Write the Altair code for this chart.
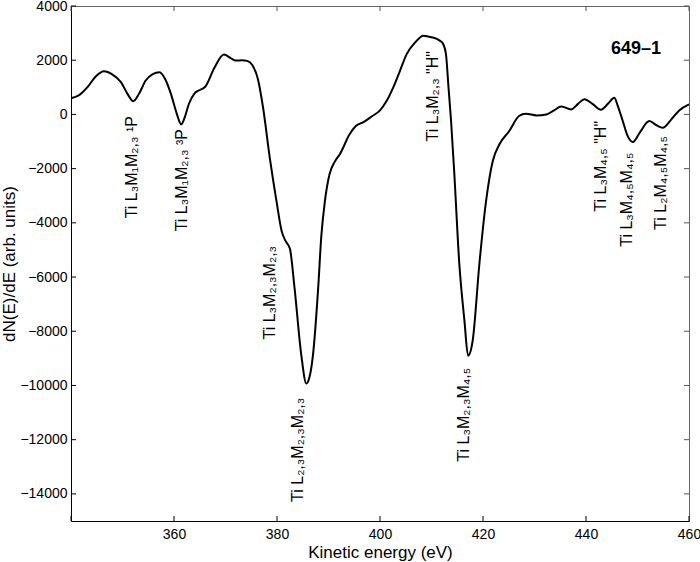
import altair as alt
import pandas as pd

# ---- curve ----
energy = [340.0, 341.5, 343.2, 344.8, 346.4, 348.0, 349.7, 351.0, 352.1, 353.2,
          354.5, 355.8, 357.2, 358.3, 359.4, 360.5, 361.4, 362.1, 362.9, 364.0,
          364.8, 366.1, 367.8, 369.7, 371.0, 372.0, 373.2, 374.2, 375.2, 376.3,
          377.3, 378.6, 379.9, 380.9, 381.6, 382.5, 383.4, 384.7, 385.7, 386.3,
          387.0, 388.0, 388.6, 389.3, 390.2, 391.2, 392.2, 394.1, 395.3, 396.8,
          398.5, 400.0, 401.3, 402.6, 403.9, 405.2, 406.8, 408.4, 410.0, 411.6,
          412.2, 412.8, 413.3, 413.8, 414.4, 415.4, 416.4, 417.1, 418.0, 419.3,
          420.6, 421.9, 423.2, 425.1, 427.0, 428.3, 430.4, 432.3, 433.8, 435.2,
          437.1, 438.5, 439.7, 441.2, 442.9, 444.3, 445.5, 446.2, 447.1, 448.1,
          449.1, 450.5, 452.3, 453.7, 454.9, 456.5, 458.1, 460.0]
signal = [600, 700, 1005, 1400, 1594, 1480, 1190, 750, 490, 760,
          1250, 1480, 1557, 1300, 760, 50, -368, -100, 393, 780,
          883, 1030, 1700, 2208, 2080, 1987, 2000, 1976, 1820, 1300,
          247, -1600, -3200, -4300, -4650, -4950, -6390, -8850, -9930, -9700,
          -8850, -6390, -4500, -3200, -2210, -1750, -1470, -734, -430, -283,
          -60, 147, 500, 1005, 1619, 2234, 2650, 2907, 2850, 2723,
          2620, 2230, 1000, -244, -2088, -5510, -7620, -8900, -8340, -5510,
          -3190, -1715, -1100, -612, -59, 25, -37, 0, 150, 294,
          184, 400, 563, 400, 173, 400, 614, 300, -221, -800,
          -1019, -650, -245, -400, -491, -200, 147, 368]

# ---- peak annotations ----
label_text = ["Ti L\u2083M\u2081M\u2082,\u2083 \u00b9P",
              "Ti L\u2083M\u2081M\u2082,\u2083 \u00b3P",
              "Ti L\u2083M\u2082,\u2083M\u2082,\u2083",
              "Ti L\u2082,\u2083M\u2082,\u2083M\u2082,\u2083",
              "Ti L\u2083M\u2082,\u2083 \"H\"",
              "Ti L\u2083M\u2082,\u2083M\u2084,\u2085",
              "Ti L\u2083M\u2084,\u2085 \"H\"",
              "Ti L\u2083M\u2084,\u2085M\u2084,\u2085",
              "Ti L\u2082M\u2084,\u2085M\u2084,\u2085"]
label_x = [351.8, 361.5, 378.6, 384.0, 410.2, 416.4, 442.9, 448.0, 454.5]
label_y = [-60, -540, -4850, -10450, 2340, -9350, -240, -1410, -800]

sample_text = ["649\u20131"]
sample_x = [449.7]
sample_y = [2410]

x_ticks = [340, 360, 380, 400, 420, 440, 460]
y_ticks = [4000, 2000, 0, -2000, -4000, -6000, -8000, -10000, -12000, -14000]

W, H = 618, 515
FONT = "Liberation Sans"

xs = alt.Scale(domain=[340, 460], nice=False, zero=False)
ys = alt.Scale(domain=[-15000, 4000], nice=False, zero=False)

x_axis = alt.Axis(values=x_ticks[1:], ticks=False, grid=False, labelFontSize=14,
                  labelPadding=6, titleFontSize=17, titleFontWeight="normal",
                  titlePadding=3, domainColor="black", labelColor="black",
                  titleColor="black", labelFont=FONT, titleFont=FONT,
                  labelFlush=False, labelOverlap=False, format="d")
y_axis = alt.Axis(values=y_ticks, ticks=False, grid=False, labelFontSize=14,
                  labelPadding=4, titleFontSize=17, titleFontWeight="normal",
                  titlePadding=1, domainColor="black", labelColor="black",
                  titleColor="black", labelFont=FONT, titleFont=FONT,
                  labelFlush=False, labelOverlap=False, format="d")

curve = pd.DataFrame({"x": energy, "y": signal})
labels = pd.DataFrame({"x": label_x, "y": label_y, "t": label_text})
sample = pd.DataFrame({"x": sample_x, "y": sample_y, "t": sample_text})
xt = pd.DataFrame({"x": x_ticks})
yt = pd.DataFrame({"y": y_ticks})

XT = "Kinetic energy (eV)"
YT = "dN(E)/dE (arb. units)"

line = alt.Chart(curve).mark_line(color="black", strokeWidth=2,
                                  interpolate="monotone").encode(
    x=alt.X("x:Q", scale=xs, axis=x_axis, title=XT),
    y=alt.Y("y:Q", scale=ys, axis=y_axis, title=YT),
)

txt = alt.Chart(labels).mark_text(angle=270, align="right", baseline="middle",
                                  font=FONT, fontSize=16, color="black").encode(
    x=alt.X("x:Q", scale=xs, title=XT),
    y=alt.Y("y:Q", scale=ys, title=YT),
    text="t:N",
)

stxt = alt.Chart(sample).mark_text(align="center", baseline="middle", font=FONT,
                                   fontSize=18, fontWeight="bold",
                                   color="black").encode(
    x=alt.X("x:Q", scale=xs, title=XT),
    y=alt.Y("y:Q", scale=ys, title=YT),
    text="t:N",
)

tick_len = 5
bx = alt.Chart(xt).mark_rule(color="black", strokeWidth=1).encode(
    x=alt.X("x:Q", scale=xs, title=XT), y=alt.value(H), y2=alt.value(H - tick_len))
tx = alt.Chart(xt).mark_rule(color="#555555", strokeWidth=1).encode(
    x=alt.X("x:Q", scale=xs, title=XT), y=alt.value(0), y2=alt.value(tick_len))
ly = alt.Chart(yt).mark_rule(color="black", strokeWidth=1).encode(
    y=alt.Y("y:Q", scale=ys, title=YT), x=alt.value(0), x2=alt.value(tick_len))
ry = alt.Chart(yt).mark_rule(color="#555555", strokeWidth=1).encode(
    y=alt.Y("y:Q", scale=ys, title=YT), x=alt.value(W), x2=alt.value(W - tick_len))

chart = alt.layer(line, txt, stxt, bx, tx, ly, ry).properties(
    width=W, height=H,
    autosize=alt.AutoSizeParams(type="none"),
    padding={"left": 71, "top": 6, "right": 11, "bottom": 41},
    background="white",
).configure_view(stroke="#666666", strokeWidth=1)

chart.save("out.html", embed_options={"renderer": "svg", "actions": False})
